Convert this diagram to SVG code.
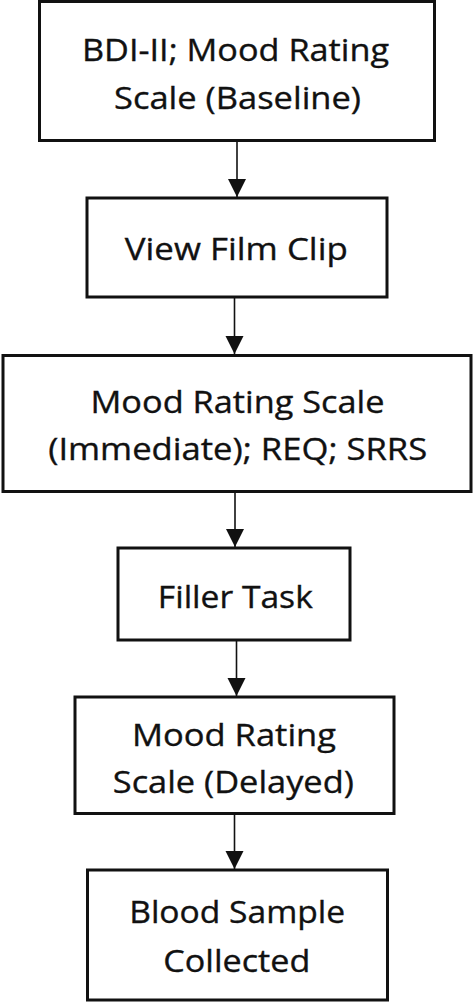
<svg xmlns="http://www.w3.org/2000/svg" width="474" height="1003" viewBox="0 0 474 1003">
<style>
.box{fill:#fff;stroke:#111;stroke-width:3}
.lbl{font-family:"Open Sans","Liberation Sans",sans-serif;font-size:31px;fill:#111;stroke:#111;stroke-width:0.35;text-anchor:middle}
.conn{stroke:#111;stroke-width:1.6;fill:none}
</style>
<defs>
<marker id="ah" markerUnits="userSpaceOnUse" markerWidth="20" markerHeight="20" viewBox="0 0 20 20" refX="18" refY="10" orient="auto">
<path d="M0,1 L18,10 L0,19 Z" fill="#111"/>
</marker>
</defs>
<rect width="474" height="1003" fill="#fff"/>
<g id="connectors">
<line class="conn" x1="237" y1="141" x2="237" y2="197" marker-end="url(#ah)"/>
<line class="conn" x1="234.5" y1="297" x2="234.5" y2="354" marker-end="url(#ah)"/>
<line class="conn" x1="235" y1="491" x2="235" y2="547" marker-end="url(#ah)"/>
<line class="conn" x1="236.5" y1="640" x2="236.5" y2="696" marker-end="url(#ah)"/>
<line class="conn" x1="234.5" y1="813" x2="234.5" y2="869" marker-end="url(#ah)"/>
</g>
<g id="n1">
<rect class="box" x="39.5" y="1.5" width="395" height="139"/>
<text class="lbl" x="235.5" y="61" textLength="307" lengthAdjust="spacingAndGlyphs">BDI-II; Mood Rating</text>
<text class="lbl" x="237.5" y="109" textLength="247" lengthAdjust="spacingAndGlyphs">Scale (Baseline)</text>
</g>
<g id="n2">
<rect class="box" x="87" y="198" width="300" height="99"/>
<text class="lbl" x="236.3" y="260" textLength="223" lengthAdjust="spacingAndGlyphs">View Film Clip</text>
</g>
<g id="n3">
<rect class="box" x="3" y="355.5" width="468" height="136"/>
<text class="lbl" x="237.5" y="413" textLength="294" lengthAdjust="spacingAndGlyphs">Mood Rating Scale</text>
<text class="lbl" x="237.7" y="460" textLength="379" lengthAdjust="spacingAndGlyphs">(Immediate); REQ; SRRS</text>
</g>
<g id="n4">
<rect class="box" x="118" y="548" width="232" height="92"/>
<text class="lbl" x="235.3" y="608" textLength="155" lengthAdjust="spacingAndGlyphs">Filler Task</text>
</g>
<g id="n5">
<rect class="box" x="75" y="697" width="319" height="116.5"/>
<text class="lbl" x="234" y="746" textLength="204" lengthAdjust="spacingAndGlyphs">Mood Rating</text>
<text class="lbl" x="233.3" y="793" textLength="241" lengthAdjust="spacingAndGlyphs">Scale (Delayed)</text>
</g>
<g id="n6">
<rect class="box" x="87.5" y="870" width="300" height="130"/>
<text class="lbl" x="237.2" y="923" textLength="216" lengthAdjust="spacingAndGlyphs">Blood Sample</text>
<text class="lbl" x="236.8" y="971.5" textLength="147" lengthAdjust="spacingAndGlyphs">Collected</text>
</g>
</svg>
